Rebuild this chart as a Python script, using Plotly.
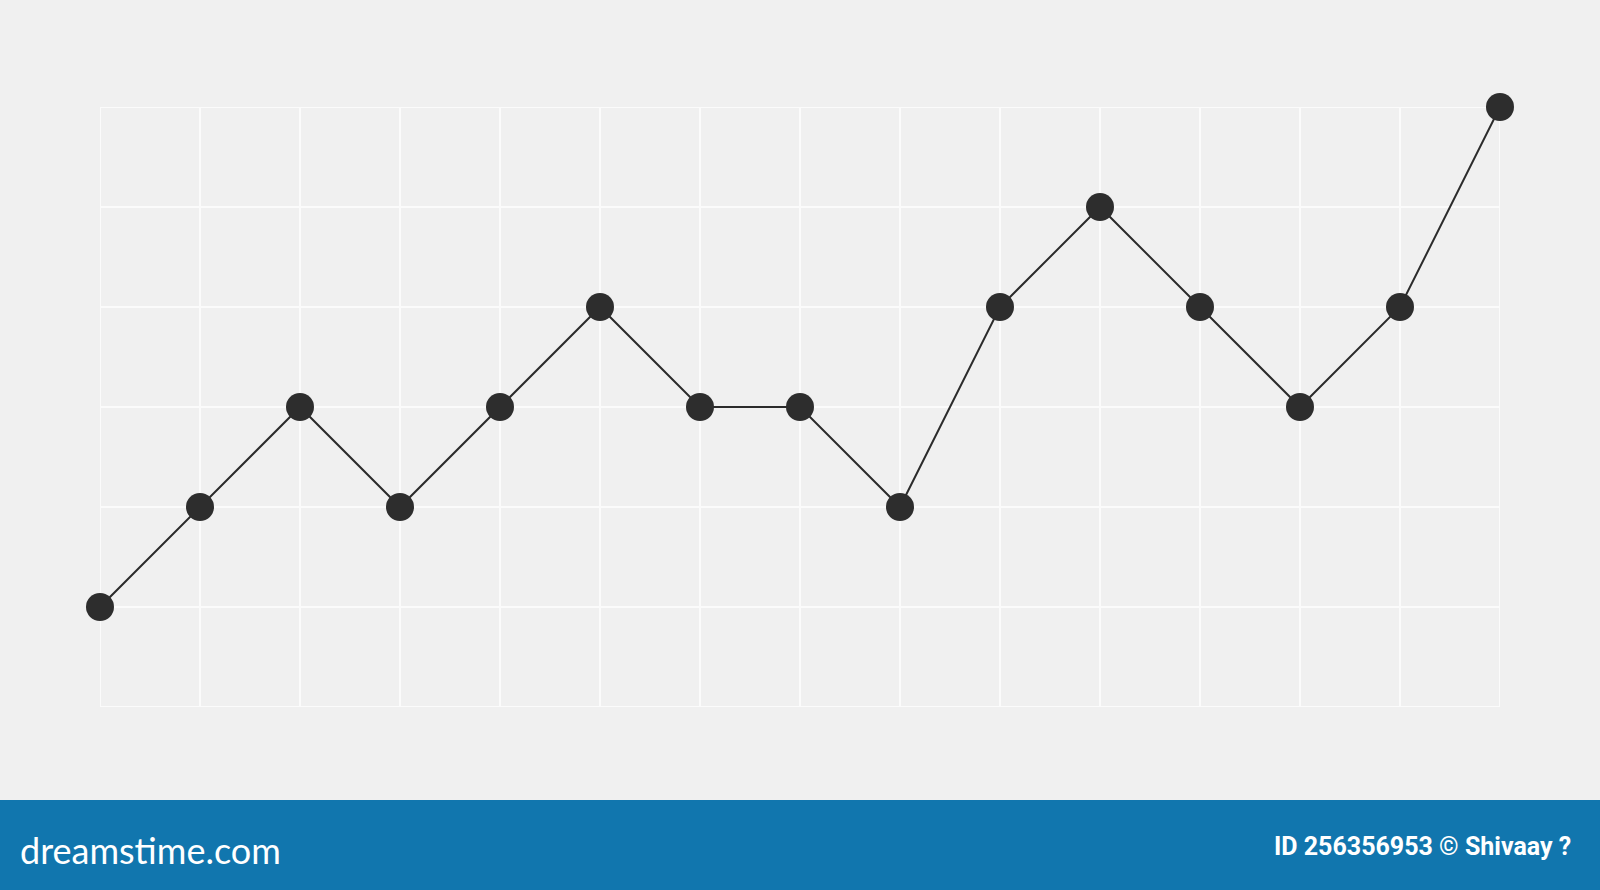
import plotly.graph_objects as go

x_positions = list(range(15))
values = [1, 2, 3, 2, 3, 4, 3, 3, 2, 4, 5, 4, 3, 4, 6]
x_ticks = list(range(15))
y_ticks = list(range(7))

W, H = 1600, 890
L, R, T, B = 100, 100, 107, 183
ph = H - T - B
pw = W - L - R

def py(pix):
    return (H - B - pix) / ph

def px(pix):
    return (pix - L) / pw

fig = go.Figure()
fig.add_trace(go.Scatter(
    x=x_positions, y=values, mode="lines+markers",
    line=dict(color="#2b2b2b", width=2),
    marker=dict(size=28, color="#2d2d2d"),
    cliponaxis=False, showlegend=False, hoverinfo="skip",
))

fig.update_layout(
    width=W, height=H,
    margin=dict(l=L, r=R, t=T, b=B, pad=0),
    paper_bgcolor="#f0f0f0", plot_bgcolor="#f0f0f0",
    xaxis=dict(range=[0, 14], tickvals=x_ticks, showticklabels=False,
               showgrid=True, gridcolor="#fbfbfb", gridwidth=2,
               zeroline=False, showline=False, fixedrange=True),
    yaxis=dict(range=[0, 6], tickvals=y_ticks, showticklabels=False,
               showgrid=True, gridcolor="#fbfbfb", gridwidth=2,
               zeroline=False, showline=False, fixedrange=True),
    shapes=[
        dict(type="rect", xref="paper", yref="paper",
             x0=px(0), x1=px(W), y0=py(H + 2), y1=py(800),
             fillcolor="#1176ae", line=dict(width=0), layer="above"),
        dict(type="line", xref="x", yref="y", x0=0, x1=0, y0=0, y1=6,
             line=dict(color="#fbfbfb", width=2), layer="below"),
        dict(type="line", xref="x", yref="y", x0=14, x1=14, y0=0, y1=6,
             line=dict(color="#fbfbfb", width=2), layer="below"),
        dict(type="line", xref="x", yref="y", x0=0, x1=14, y0=0, y1=0,
             line=dict(color="#fbfbfb", width=2), layer="below"),
        dict(type="line", xref="x", yref="y", x0=0, x1=14, y0=6, y1=6,
             line=dict(color="#fbfbfb", width=2), layer="below"),
    ],
    annotations=[
        dict(text="dreamstime.com", xref="paper", yref="paper",
             x=px(18), y=py(850), xanchor="left", yanchor="middle",
             showarrow=False, font=dict(family="Lato", size=36, color="white")),
        dict(text="<b>ID 256356953 © Shivaay ?</b>", xref="paper", yref="paper",
             x=px(1573), y=py(846), xanchor="right", yanchor="middle",
             showarrow=False, font=dict(family="Roboto", size=25, color="white")),
    ],
)

fig.write_html("out.html",
               config={"displayModeBar": False},
               post_script="document.body.style.margin='0px';document.body.style.padding='0px';document.body.style.overflow='hidden';document.body.style.background='#f0f0f0';")
